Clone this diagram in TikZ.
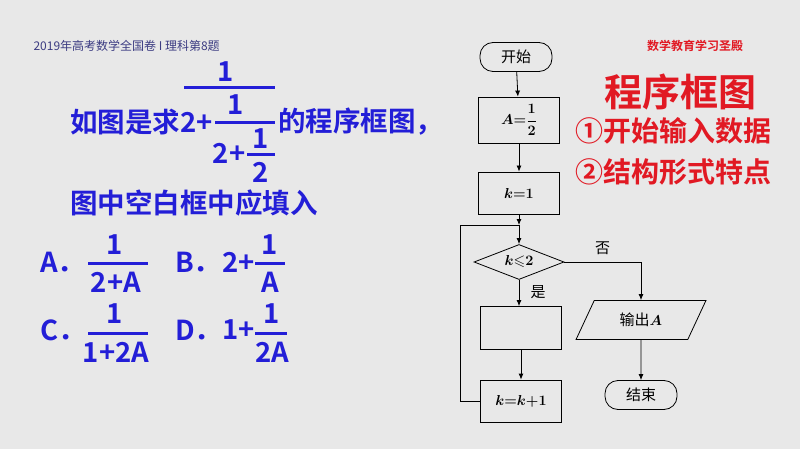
\documentclass[tikz,border=0pt]{standalone}
\usepackage{amsmath,amssymb}
\usepackage{fontspec}
\usetikzlibrary{shapes.geometric,arrows.meta,positioning}
\newfontfamily\cjkb{Noto Sans CJK SC Bold}
\newfontfamily\cjk{Noto Sans CJK SC}
\definecolor{qBlue}{RGB}{35,30,215}
\definecolor{qRed}{RGB}{225,25,35}
\definecolor{qHead}{RGB}{60,60,130}
\definecolor{qBack}{RGB}{232,232,232}
\newcommand{\qsize}{\fontsize{27.5}{30}\selectfont}
\newcommand{\fsize}{\fontsize{15}{18}\selectfont}

\begin{document}
\begin{tikzpicture}[x=1pt,y=-1pt,
    qtext/.style={text=qBlue,font=\cjkb\qsize,inner sep=0pt},
    qline/.style={draw=qBlue,line width=3pt},
    flow/.style={draw,thick,font=\cjk\fsize,minimum width=81pt},
    term/.style={flow,rounded corners=13pt,minimum width=72pt,minimum height=29pt},
    arr/.style={thick,-{Latex[length=6pt,width=5pt]}}]

  % background
  \fill[qBack] (0,0) rectangle (800,449);
  \useasboundingbox (0,0) rectangle (800,449);

  % header
  \node[anchor=west,text=qHead,font=\cjk\fontsize{12}{14}\selectfont] (head) at (30,46) {2019年高考数学全国卷 I 理科第8题};

  % question
  \node[qtext,anchor=east] (q1) at (213,122) {如图是求2+};
  \draw[qline] (184,88) -- (275,88);
  \node[qtext] (n1) at (226,72) {1};
  \draw[qline] (215,123) -- (275,123);
  \node[qtext] (n2) at (236,105) {1};
  \node[qtext] (d1) at (229,153) {2+};
  \draw[qline] (247,155) -- (275,155);
  \node[qtext] (n3) at (261,139) {1};
  \node[qtext] (d2) at (261,172) {2};
  \node[qtext,anchor=west] (q2) at (278,122) {的程序框图，};
  \node[qtext,anchor=west] (q3) at (70,203) {图中空白框中应填入};

  % options
  \node[qtext,anchor=west] (oA) at (40,262) {A．};
  \draw[qline] (88,263) -- (148,263);
  \node[qtext] (oAn) at (115,245) {1};
  \node[qtext] (oAd) at (116,282) {2+A};
  \node[qtext,anchor=west] (oB) at (175,262) {B．};
  \node[qtext,anchor=east] (oBa) at (255,262) {2+};
  \draw[qline] (255,263) -- (285,263);
  \node[qtext] (oBn) at (270,245) {1};
  \node[qtext] (oBd) at (270,282) {A};
  \node[qtext,anchor=west] (oC) at (40,330) {C．};
  \draw[qline] (88,333) -- (148,333);
  \node[qtext] (oCn) at (115,314) {1};
  \node[qtext] (oCd) at (116,352) {1+2A};
  \node[qtext,anchor=west] (oD) at (175,330) {D．};
  \node[qtext,anchor=east] (oDa) at (255,330) {1+};
  \draw[qline] (255,333) -- (287,333);
  \node[qtext] (oDn) at (272,314) {1};
  \node[qtext] (oDd) at (272,352) {2A};

  % red notes
  \node[text=qRed,font=\cjkb\fontsize{12}{14}\selectfont] (src) at (695,46) {数学教育学习圣殿};
  \node[text=qRed,font=\cjkb\fontsize{38}{42}\selectfont] (title) at (680,92) {程序框图};
  \node[text=qRed,font=\cjkb\fontsize{28}{30}\selectfont,anchor=west] (p1) at (572,131) {①开始输入数据};
  \node[text=qRed,font=\cjkb\fontsize{28}{30}\selectfont,anchor=west] (p2) at (572,172) {②结构形式特点};

  % flow chart
  \node[term] (start) at (516,57) {开始};
  \node[flow,minimum height=46pt] (setA) at (519,120) {$\boldsymbol{A{=}\dfrac{1}{2}}$};
  \node[flow,minimum height=42pt] (setk) at (519,193) {$\boldsymbol{k{=}1}$};
  \node[flow,diamond,aspect=2.6,minimum width=90pt,minimum height=35pt,inner sep=0pt] (test) at (519,262) {$\boldsymbol{k{\leqslant}2}$};
  \node[flow,minimum height=43pt] (blank) at (521,328) {};
  \node[flow,minimum height=42pt] (inc) at (521,401) {$\boldsymbol{k{=}k{+}1}$};
  \node[flow,trapezium,trapezium left angle=65,trapezium right angle=115,minimum width=70pt,minimum height=39pt] (out) at (641,320) {输出$\boldsymbol{A}$};
  \node[term] (stop) at (641,395) {结束};
  \coordinate (loop) at (519,225);

  \draw[arr] (start) -- (setA);
  \draw[arr] (setA) -- (setk);
  \draw[arr] (setk) -- (loop);
  \draw[arr] (loop) -- (test);
  \draw[arr] (test.south) -- (blank.north -| test.south) node[pos=0.45,right=8pt,font=\cjk\fsize] {是};
  \draw[arr] (blank) -- (inc);
  \draw[thick] (inc.west) -- ++(-20,0) |- (loop);
  \draw[arr] (test.east) -| (out.north) node[pos=0.25,above=4pt,font=\cjk\fsize] {否};
  \draw[arr] (out) -- (stop);
\end{tikzpicture}
\end{document}
